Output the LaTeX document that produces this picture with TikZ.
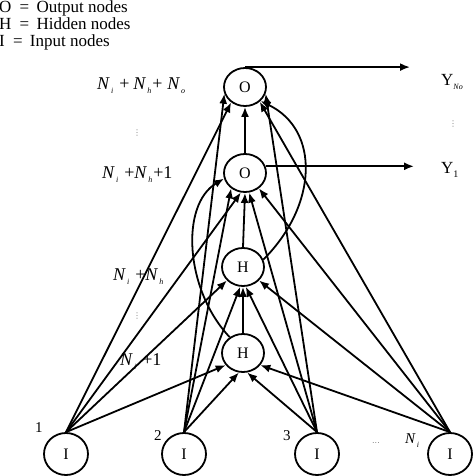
\documentclass[tikz,border=0pt]{standalone}
\usepackage{fontspec}
\setmainfont{Liberation Serif}
\newfontfamily\dejavu{DejaVu Sans}
\usetikzlibrary{shapes.geometric,arrows.meta}
\newcommand{\Nsub}[1]{\textit{N}\kern1pt\raisebox{-4pt}{\fontsize{8}{8}\selectfont\textit{#1}}}
\begin{document}
\begin{tikzpicture}[x=1pt,y=-1pt,
  nd/.style={draw,ellipse,line width=1.8pt,minimum width=42pt,minimum height=38pt,inner sep=0pt,font=\fontsize{16}{16}\selectfont},
  inp/.style={nd,minimum width=44pt,minimum height=42pt},
  con/.style={line width=1.8pt,-{Latex[length=10pt,width=8pt]}},
  lbl/.style={inner sep=0pt,anchor=base west,font=\fontsize{17}{17}\selectfont},
  nlbl/.style={inner sep=0pt,anchor=base west,font=\fontsize{18}{18}\selectfont},
  num/.style={inner sep=0pt,anchor=base west,font=\fontsize{15}{15}\selectfont},
  vdot/.style={inner sep=0pt,text=gray,font=\dejavu\fontsize{8}{8}\selectfont}]
\useasboundingbox (0,0) rectangle (474,476);
% legend
\node[lbl] (l1) at (-1,13) {O\hspace{4pt} = \hspace{3pt}Output nodes};
\node[lbl] (l2) at (-1,30) {H\hspace{4pt} = \hspace{3pt}Hidden nodes};
\node[lbl] (l3) at (-1,47) {I\hspace{4pt} = \hspace{3pt}Input nodes};
% nodes
\node[nd] (O2) at (245,87) {O};
\node[nd] (O1) at (245,173) {O};
\node[nd] (H2) at (243,267) {H};
\node[nd] (H1) at (243,353) {H};
\node[inp] (I1) at (66,454) {I};
\node[inp] (I2) at (184,454) {I};
\node[inp] (I3) at (317,454) {I};
\node[inp] (I4) at (450,454) {I};
% left labels
\node[nlbl] (n4) at (97,90) {\Nsub{i}\hspace{6pt}+\hspace{4pt}\Nsub{h}\hspace{1pt}+\hspace{5pt}\Nsub{o}};
\node[vdot] (d1) at (137,133) {⋮};
\node[nlbl] (n3) at (102,178) {\Nsub{i}\hspace{6pt}+\Nsub{h}\hspace{1pt}+1};
\node[nlbl] (n2) at (113,280) {\Nsub{i}\hspace{6pt}+\Nsub{h}};
\node[vdot] (d2) at (137,316) {⋮};
\node[nlbl] (n1) at (120,365) {\Nsub{i}\hspace{6pt}+1};
% bottom labels
\node[num] (b1) at (35,432) {1};
\node[num] (b2) at (154,440) {2};
\node[num] (b3) at (283,440) {3};
\node[vdot,anchor=base west] (bd) at (372,443) {...};
\node[num] (bn) at (405,443) {\Nsub{i}};
% outputs
\coordinate (ynoend) at (410,0);
\coordinate (y1end) at (414,0);
\draw[con] (O2.north) -- (O2.north -| ynoend);
\draw[con] (O1.18) -- (O1.18 -| y1end);
\node[lbl] (yno) at (441,86) {Y\raisebox{-4pt}{\fontsize{8}{8}\selectfont\textit{No}}};
\node[vdot] (d3) at (453,124) {⋮};
\node[lbl] (y1) at (441,173) {Y\raisebox{-4pt}{\fontsize{10}{10}\selectfont 1}};
% input connections
\foreach \i/\a/\b/\c/\d in {I1/215/220/258/228, I2/258/262/228/198, I3/282/278/282/342, I4/325/320/312/315} {
  \draw[con] (\i.north) -- (H1.\a);
  \draw[con] (\i.north) -- (H2.\b);
  \draw[con] (\i.north) -- (O1.\c);
  \draw[con] (\i.north) -- (O2.\d);
}
% cascade connections
\draw[con] (H1.north) -- (H2.south);
\draw[con] (H2.north) -- (O1.south);
\draw[con] (O1.north) -- (O2.south);
\draw[con] (H1.130) .. controls (185,290) and (180,205) .. (O1.195);
\draw[con] (H2.20) .. controls (318,205) and (320,130) .. (O2.318);
\end{tikzpicture}
\end{document}
